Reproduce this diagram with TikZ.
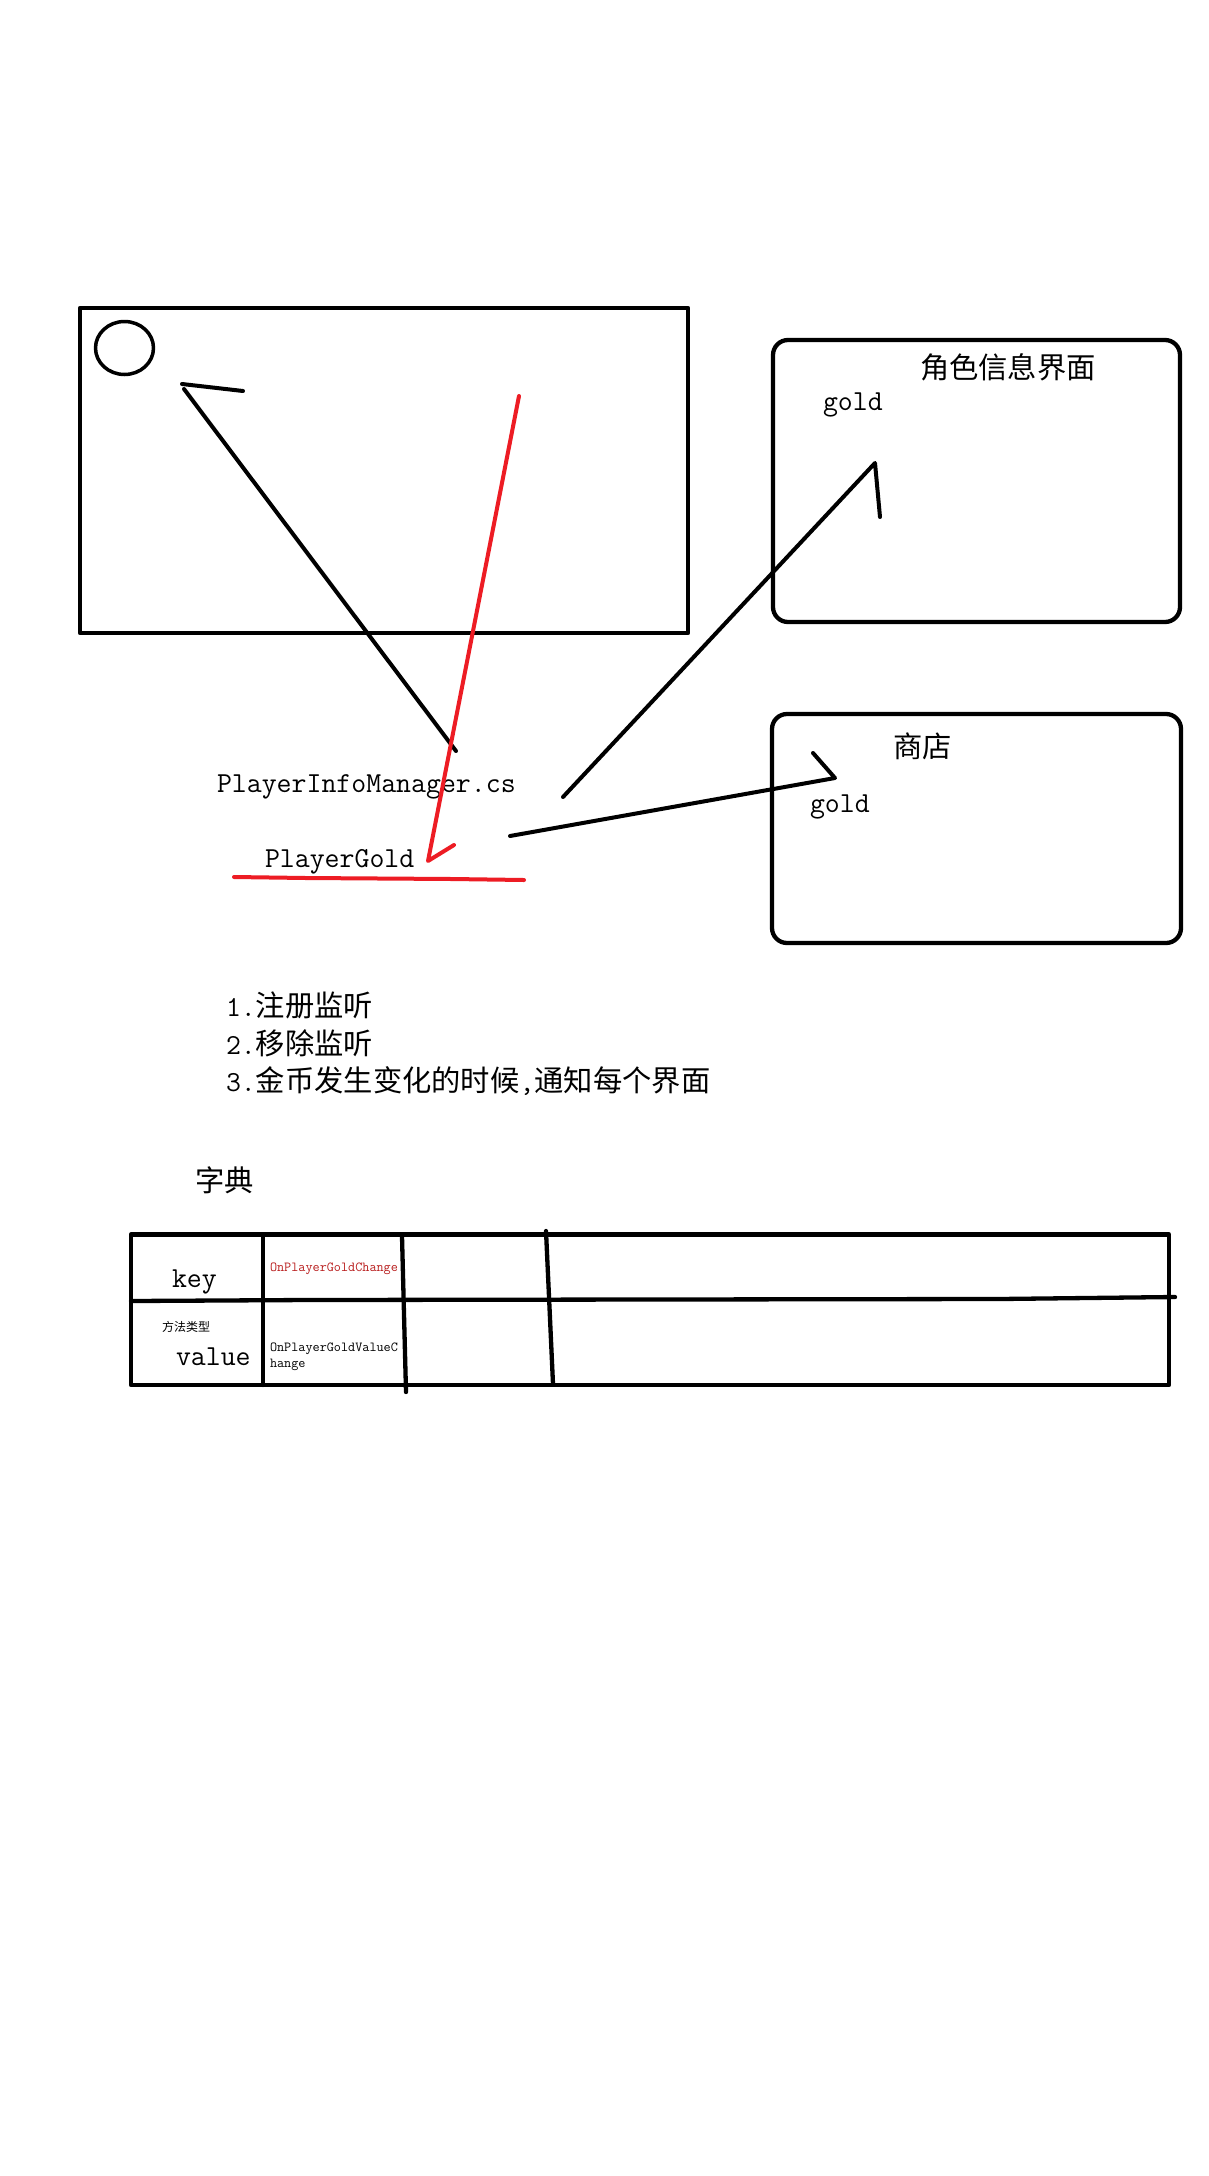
\documentclass[tikz,border=0pt]{standalone}
\usepackage{fontspec}
\newfontfamily\cjk{Noto Sans CJK SC}
\definecolor{pred}{RGB}{237,28,36}
\definecolor{dred}{RGB}{185,30,30}
\newcommand{\LT}{\ttfamily\fontsize{29}{29}\selectfont}
\newcommand{\LS}{\ttfamily\fontsize{13.8}{16}\selectfont}
\newcommand{\CJ}{\cjk\fontsize{29.3}{30}\selectfont}
\newcommand{\CS}{\cjk\fontsize{12}{13}\selectfont}
\begin{document}
\begin{tikzpicture}[x=1pt,y=-1pt,line cap=round,line join=round,
  ink/.style={draw=black,line width=4.3pt},
  redink/.style={draw=pred,line width=4.3pt},
  txt/.style={inner sep=0pt,outer sep=0pt,anchor=base west},
  roundbox/.style={ink,rounded corners=15pt}]
\useasboundingbox[fill=white] (0,0) rectangle (1208,2176);

% big window
\draw[ink] (80,308) rectangle (688,633);
\draw[black,line width=3.5pt] (124.5,348) ellipse [x radius=29, y radius=26.5];

% right windows
\draw[roundbox] (773,340) rectangle (1180,622);
\draw[roundbox] (772,714) rectangle (1181,943);
\node[txt,font=\CJ] (t1) at (920,378.5) {角色信息界面};
\node[txt,font=\LT] (g1) at (823,410) {gold};
\node[txt,font=\CJ] (t2) at (893,757.5) {商店};
\node[txt,font=\LT] (g2) at (810,812) {gold};

% manager texts
\node[txt,font=\LT] (pim) at (217,792.5) {PlayerInfoManager.cs};
\node[txt,font=\LT] (pg) at (265,867) {PlayerGold};

% arrow endpoints
\coordinate (a1s) at (456,751);
\coordinate (a1e) at (184,389);
\coordinate (a1b) at (182,384);
\coordinate (a1h) at (243,391);
\coordinate (rs) at (519,396);
\coordinate (re) at (428,861);
\coordinate (rh) at (454,845);
\coordinate (a2s) at (563,797);
\coordinate (a2e) at (875,463);
\coordinate (a2h) at (880,517);
\coordinate (a3s) at (510,836);
\coordinate (a3e) at (835,778);
\coordinate (a3h) at (813,753);

\draw[ink,line width=4pt] (a1s) -- (a1e);
\draw[ink,line width=4pt] (a1b) -- (a1h);
\draw[redink,line width=4pt] (rs) -- (re) -- (rh);
\draw[redink,line width=4pt] (234,877) -- (306,878) -- (452,879) -- (524,880);
\draw[ink,line width=4pt] (a2s) -- (a2e) -- (a2h);
\draw[ink,line width=4pt] (a3s) -- (a3e) -- (a3h);

% list
\node[txt] (l1) at (226,1016) {{\LT 1.}{\CJ 注册监听}};
\node[txt] (l2) at (226,1054) {{\LT 2.}{\CJ 移除监听}};
\node[txt] (l3) at (226,1091) {{\LT 3.}{\CJ 金币发生变化的时候}{\LT ,}{\CJ 通知每个界面}};
\node[txt,font=\CJ] (dict) at (195,1191.5) {字典};

% table
\draw[ink] (131,1234.5) rectangle (1169,1385);
\draw[ink] (263,1234.5) -- (263,1385);
\draw[ink] (402,1236) -- (406,1392);
\draw[ink] (546,1231) -- (553,1384);
\draw[ink] (131,1301) -- (307,1300) -- (999,1299) -- (1175,1297);
\node[txt,font=\LT] (key) at (172,1287) {key};
\node[txt,font=\CS] (ff) at (162,1331.5) {方法类型};
\node[txt,font=\LT] (val) at (176,1365) {value};
\node[txt,font=\LS,text=dred] (k1) at (270,1271) {OnPlayerGoldChange};
\node[txt,font=\LS] (v1) at (270,1351) {OnPlayerGoldValueC};
\node[txt,font=\LS] (v2) at (270,1367) {hange};
\end{tikzpicture}
\end{document}
